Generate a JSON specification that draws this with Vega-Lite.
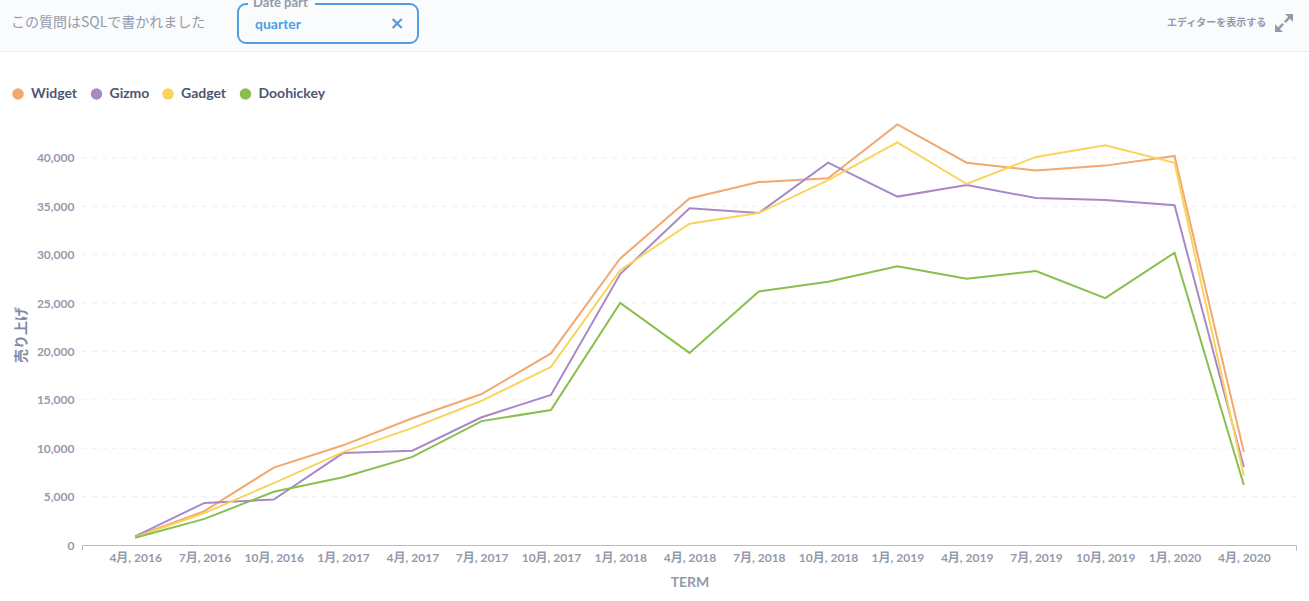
{"$schema":"https://vega.github.io/schema/vega-lite/v6.json","width":1309,"height":601,"autosize":{"type":"none"},"padding":0,"background":"#ffffff","config":{"view":{"stroke":null},"font":"Lato, Noto Sans CJK JP"},
"datasets":{"sales":[
{"term":"4月, 2016","category":"Widget","sales":850},{"term":"7月, 2016","category":"Widget","sales":3500},{"term":"10月, 2016","category":"Widget","sales":8000},{"term":"1月, 2017","category":"Widget","sales":10300},{"term":"4月, 2017","category":"Widget","sales":13100},{"term":"7月, 2017","category":"Widget","sales":15600},{"term":"10月, 2017","category":"Widget","sales":19800},{"term":"1月, 2018","category":"Widget","sales":29600},{"term":"4月, 2018","category":"Widget","sales":35800},{"term":"7月, 2018","category":"Widget","sales":37500},{"term":"10月, 2018","category":"Widget","sales":37900},{"term":"1月, 2019","category":"Widget","sales":43450},{"term":"4月, 2019","category":"Widget","sales":39500},{"term":"7月, 2019","category":"Widget","sales":38700},{"term":"10月, 2019","category":"Widget","sales":39200},{"term":"1月, 2020","category":"Widget","sales":40200},{"term":"4月, 2020","category":"Widget","sales":9600},
{"term":"4月, 2016","category":"Gizmo","sales":900},{"term":"7月, 2016","category":"Gizmo","sales":4350},{"term":"10月, 2016","category":"Gizmo","sales":4700},{"term":"1月, 2017","category":"Gizmo","sales":9500},{"term":"4月, 2017","category":"Gizmo","sales":9750},{"term":"7月, 2017","category":"Gizmo","sales":13200},{"term":"10月, 2017","category":"Gizmo","sales":15500},{"term":"1月, 2018","category":"Gizmo","sales":28000},{"term":"4月, 2018","category":"Gizmo","sales":34800},{"term":"7月, 2018","category":"Gizmo","sales":34300},{"term":"10月, 2018","category":"Gizmo","sales":39500},{"term":"1月, 2019","category":"Gizmo","sales":36000},{"term":"4月, 2019","category":"Gizmo","sales":37200},{"term":"7月, 2019","category":"Gizmo","sales":35850},{"term":"10月, 2019","category":"Gizmo","sales":35650},{"term":"1月, 2020","category":"Gizmo","sales":35100},{"term":"4月, 2020","category":"Gizmo","sales":8050},
{"term":"4月, 2016","category":"Gadget","sales":800},{"term":"7月, 2016","category":"Gadget","sales":3300},{"term":"10月, 2016","category":"Gadget","sales":6400},{"term":"1月, 2017","category":"Gadget","sales":9600},{"term":"4月, 2017","category":"Gadget","sales":12100},{"term":"7月, 2017","category":"Gadget","sales":14900},{"term":"10月, 2017","category":"Gadget","sales":18400},{"term":"1月, 2018","category":"Gadget","sales":28400},{"term":"4月, 2018","category":"Gadget","sales":33200},{"term":"7月, 2018","category":"Gadget","sales":34300},{"term":"10月, 2018","category":"Gadget","sales":37700},{"term":"1月, 2019","category":"Gadget","sales":41600},{"term":"4月, 2019","category":"Gadget","sales":37300},{"term":"7月, 2019","category":"Gadget","sales":40100},{"term":"10月, 2019","category":"Gadget","sales":41300},{"term":"1月, 2020","category":"Gadget","sales":39500},{"term":"4月, 2020","category":"Gadget","sales":7150},
{"term":"4月, 2016","category":"Doohickey","sales":750},{"term":"7月, 2016","category":"Doohickey","sales":2700},{"term":"10月, 2016","category":"Doohickey","sales":5500},{"term":"1月, 2017","category":"Doohickey","sales":7000},{"term":"4月, 2017","category":"Doohickey","sales":9100},{"term":"7月, 2017","category":"Doohickey","sales":12800},{"term":"10月, 2017","category":"Doohickey","sales":13950},{"term":"1月, 2018","category":"Doohickey","sales":25000},{"term":"4月, 2018","category":"Doohickey","sales":19850},{"term":"7月, 2018","category":"Doohickey","sales":26200},{"term":"10月, 2018","category":"Doohickey","sales":27200},{"term":"1月, 2019","category":"Doohickey","sales":28800},{"term":"4月, 2019","category":"Doohickey","sales":27500},{"term":"7月, 2019","category":"Doohickey","sales":28300},{"term":"10月, 2019","category":"Doohickey","sales":25500},{"term":"1月, 2020","category":"Doohickey","sales":30200},{"term":"4月, 2020","category":"Doohickey","sales":6200}
],"ticks":[{"tick":5000},{"tick":10000},{"tick":15000},{"tick":20000},{"tick":25000},{"tick":30000},{"tick":35000},{"tick":40000}]},
"resolve":{"scale":{"x":"independent","y":"independent"},"axis":{"x":"independent","y":"independent"}},
"layer":[
{"data":{"values":[{"band":"header"}]},"mark":{"type":"rect","fill":"#f9fbfc"},"encoding":{"x":{"field":"band","type":"nominal","axis":null,"scale":{"type":"band","range":[0,1309],"paddingInner":0,"paddingOuter":0}},"y":{"field":"band","type":"nominal","axis":null,"scale":{"type":"band","range":[0,51],"paddingInner":0,"paddingOuter":0}}}},
{"data":{"values":[{"band":"border"}]},"mark":{"type":"rect","fill":"#ebeef1"},"encoding":{"x":{"field":"band","type":"nominal","axis":null,"scale":{"type":"band","range":[0,1309],"paddingInner":0,"paddingOuter":0}},"y":{"field":"band","type":"nominal","axis":null,"scale":{"type":"band","range":[51,52],"paddingInner":0,"paddingOuter":0}}}},
{"data":{"values":[{"band":"filter"}]},"mark":{"type":"rect","fill":"#f9fbfc","stroke":"#509ee3","strokeWidth":2,"cornerRadius":8},"encoding":{"x":{"field":"band","type":"nominal","axis":null,"scale":{"type":"band","range":[238,418],"paddingInner":0,"paddingOuter":0}},"y":{"field":"band","type":"nominal","axis":null,"scale":{"type":"band","range":[4,43],"paddingInner":0,"paddingOuter":0}}}},
{"data":{"values":[{"band":"gap"}]},"mark":{"type":"rect","fill":"#f9fbfc"},"encoding":{"x":{"field":"band","type":"nominal","axis":null,"scale":{"type":"band","range":[248,315],"paddingInner":0,"paddingOuter":0}},"y":{"field":"band","type":"nominal","axis":null,"scale":{"type":"band","range":[0,8],"paddingInner":0,"paddingOuter":0}}}},
{"data":{"values":[{"label":"この質問はSQLで書かれました"}]},"mark":{"type":"text","align":"left","baseline":"middle","fontSize":14,"color":"#949aab","font":"Noto Sans CJK JP"},"encoding":{"text":{"field":"label"},"x":{"field":"label","type":"nominal","axis":null,"scale":{"type":"point","range":[11,11],"padding":0}},"y":{"field":"label","type":"nominal","axis":null,"scale":{"type":"point","range":[23,23],"padding":0}}}},
{"data":{"values":[{"label":"Date part"}]},"mark":{"type":"text","align":"left","baseline":"middle","fontSize":13,"fontWeight":"bold","color":"#949aab"},"encoding":{"text":{"field":"label"},"x":{"field":"label","type":"nominal","axis":null,"scale":{"type":"point","range":[253,253],"padding":0}},"y":{"field":"label","type":"nominal","axis":null,"scale":{"type":"point","range":[3,3],"padding":0}}}},
{"data":{"values":[{"label":"quarter"}]},"mark":{"type":"text","align":"left","baseline":"middle","fontSize":14,"fontWeight":"bold","color":"#509ee3"},"encoding":{"text":{"field":"label"},"x":{"field":"label","type":"nominal","axis":null,"scale":{"type":"point","range":[255,255],"padding":0}},"y":{"field":"label","type":"nominal","axis":null,"scale":{"type":"point","range":[25,25],"padding":0}}}},
{"data":{"values":[{"label":"×"}]},"mark":{"type":"text","align":"center","baseline":"middle","fontSize":18,"fontWeight":"bold","color":"#509ee3","font":"DejaVu Sans"},"encoding":{"text":{"field":"label"},"x":{"field":"label","type":"nominal","axis":null,"scale":{"type":"point","range":[397,397],"padding":0}},"y":{"field":"label","type":"nominal","axis":null,"scale":{"type":"point","range":[24,24],"padding":0}}}},
{"data":{"values":[{"label":"エディターを表示する"}]},"mark":{"type":"text","align":"left","baseline":"middle","fontSize":10,"fontWeight":"bold","color":"#949aab","font":"Noto Sans CJK JP"},"encoding":{"text":{"field":"label"},"x":{"field":"label","type":"nominal","axis":null,"scale":{"type":"point","range":[1167,1167],"padding":0}},"y":{"field":"label","type":"nominal","axis":null,"scale":{"type":"point","range":[23,23],"padding":0}}}},
{"data":{"values":[{"label":"expand"}]},"mark":{"type":"point","filled":true,"opacity":1,"color":"#949aab","size":1296,"shape":"M0.06,-0.5 L0.5,-0.5 L0.5,-0.06 L0.33,-0.23 L0.1,0 L0,-0.1 L0.23,-0.33 Z M-0.06,0.5 L-0.5,0.5 L-0.5,0.06 L-0.33,0.23 L-0.1,0 L0,0.1 L-0.23,0.33 Z"},"encoding":{"x":{"field":"label","type":"nominal","axis":null,"scale":{"type":"point","range":[1284,1284],"padding":0}},"y":{"field":"label","type":"nominal","axis":null,"scale":{"type":"point","range":[23,23],"padding":0}}}},
{"data":{"name":"ticks"},"mark":{"type":"rule","stroke":"#eef0f2","strokeWidth":1,"strokeDash":[5,5]},"encoding":{"x":{"datum":0,"type":"quantitative","scale":{"domain":[0,1],"range":[82,1296],"nice":false,"zero":false},"axis":{"orient":"bottom","offset":-56,"values":[0,1],"labels":false,"title":null,"grid":false,"domain":true,"domainColor":"#b8bbc3","ticks":true,"tickColor":"#b8bbc3","tickSize":5}},"x2":{"datum":1},"y":{"field":"tick","type":"quantitative","axis":null,"scale":{"domain":[0,43500],"range":[545,124],"nice":false,"zero":false}}}},
{"data":{"name":"sales"},"mark":{"type":"line","strokeWidth":2,"interpolate":"linear"},"encoding":{
"x":{"field":"term","type":"nominal","sort":null,"scale":{"type":"point","range":[82.5,1296.5],"padding":0.76},"axis":{"orient":"bottom","offset":-56,"title":"TERM","titleFontSize":14,"titleFontWeight":"bold","titleColor":"#949aab","titlePadding":12,"labelAngle":0,"labelFontSize":12,"labelFontWeight":"bold","labelColor":"#949aab","labelPadding":7,"labelOverlap":false,"domain":false,"ticks":false,"grid":false}},
"y":{"field":"sales","type":"quantitative","scale":{"domain":[0,43500],"range":[545,124],"nice":false,"zero":false},"axis":{"orient":"left","offset":-82,"title":"売り上げ","titleFontSize":14,"titleFontWeight":"bold","titleColor":"#7f8ba8","titlePadding":8,"values":[0,5000,10000,15000,20000,25000,30000,35000,40000],"format":",d","labelFontSize":12,"labelFontWeight":"bold","labelColor":"#949aab","labelPadding":8,"domain":false,"ticks":false,"grid":false}},
"stroke":{"field":"category","type":"nominal","sort":null,"legend":null,"scale":{"domain":["Doohickey","Gadget","Gizmo","Widget"],"range":["#88bf4d","#f9d45c","#a989c5","#f2a86f"]}}}},
{"data":{"name":"sales"},"mark":{"type":"point","filled":true,"opacity":1,"strokeWidth":0},"encoding":{
"x":{"field":"term","type":"nominal","sort":null,"axis":null,"scale":{"type":"point","range":[82.5,1296.5],"padding":0.76}},
"y":{"field":"sales","type":"quantitative","axis":null,"scale":{"domain":[0,43500],"range":[545,124],"nice":false,"zero":false}},
"size":{"value":0},
"fill":{"field":"category","type":"nominal","sort":null,"scale":{"domain":["Widget","Gizmo","Gadget","Doohickey"],"range":["#f2a86f","#a989c5","#f9d45c","#88bf4d"]},"legend":{"title":null,"orient":"none","legendX":11,"legendY":87,"direction":"horizontal","columns":4,"padding":0,"symbolType":"circle","symbolSize":133,"symbolStrokeWidth":0,"labelFontSize":14,"labelFontWeight":"bold","labelColor":"#4c5773","labelOffset":6,"columnPadding":11.5}}}}
]}
